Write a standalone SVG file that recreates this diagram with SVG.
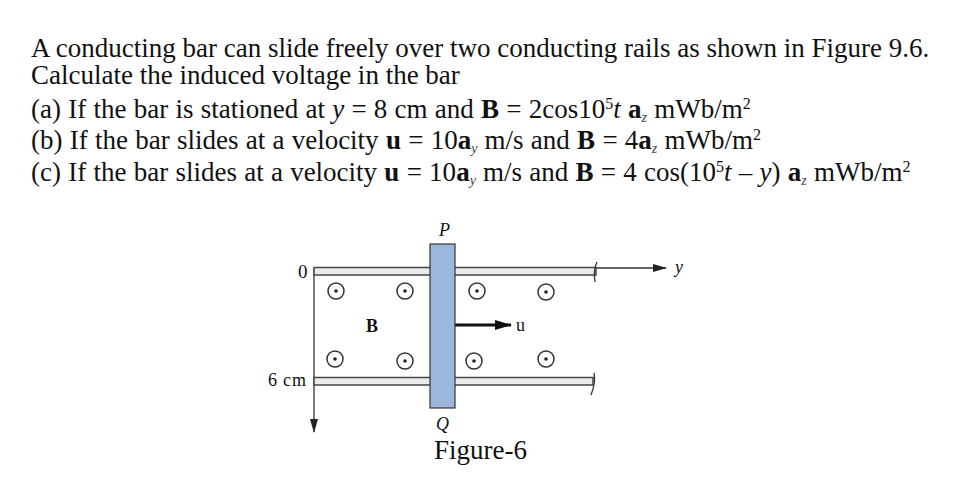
<svg xmlns="http://www.w3.org/2000/svg" width="975" height="494" viewBox="0 0 975 494">
<style>
text{font-family:"Liberation Serif","Times New Roman",serif;fill:#111}
.q{font-size:27px}
.w{word-spacing:.5px}
.b{font-weight:bold}
.i{font-style:italic}
.s{font-size:16px}
.sub{font-size:14px;fill:#444}
.lab{font-size:18px;fill:#333}
.rail{fill:#ebebeb;stroke:#444;stroke-width:1.5}
.dot circle:first-child{fill:none;stroke:#333;stroke-width:1.5}
.ax{stroke:#333;stroke-width:1.3;fill:none}
</style>
<defs>
<marker id="ah" markerUnits="userSpaceOnUse" markerWidth="14" markerHeight="8" refX="13" refY="4" orient="auto"><path d="M0 0L14 4L0 8Z" fill="#222"/></marker>
<marker id="ahb" markerUnits="userSpaceOnUse" markerWidth="17" markerHeight="10" refX="16" refY="5" orient="auto"><path d="M0 0L17 5L0 10Z" fill="#111"/></marker>
<g id="dot" class="dot"><circle r="8"/><circle r="1.8" fill="#222"/></g>
</defs>
<g id="question" class="q">
<text x="31" y="57">A conducting bar can slide freely over two conducting rails as shown in Figure 9.6.</text>
<text x="31" y="84">Calculate the induced voltage in the bar</text>
<text x="31" y="118" class="w">(a) If the bar is stationed at <tspan class="i">y</tspan> = 8 cm and <tspan class="b">B</tspan> = 2cos10<tspan class="s" dy="-9">5</tspan><tspan class="i" dy="9">t</tspan> <tspan class="b">a</tspan><tspan class="sub i" dy="4">z</tspan><tspan dy="-4"> mWb/m</tspan><tspan class="s" dy="-9">2</tspan></text>
<text x="31" y="149" class="w">(b) If the bar slides at a velocity <tspan class="b">u</tspan> = 10<tspan class="b">a</tspan><tspan class="sub i" dy="4">y</tspan><tspan dy="-4"> m/s and </tspan><tspan class="b">B</tspan> = 4<tspan class="b">a</tspan><tspan class="sub i" dy="4">z</tspan><tspan dy="-4"> mWb/m</tspan><tspan class="s" dy="-9">2</tspan></text>
<text x="31" y="181" class="w">(c) If the bar slides at a velocity <tspan class="b">u</tspan> = 10<tspan class="b">a</tspan><tspan class="sub i" dy="4">y</tspan><tspan dy="-4"> m/s and </tspan><tspan class="b">B</tspan> = 4 cos(10<tspan class="s" dy="-9">5</tspan><tspan class="i" dy="9">t</tspan> – <tspan class="i">y</tspan>) <tspan class="b">a</tspan><tspan class="sub i" dy="4">z</tspan><tspan dy="-4"> mWb/m</tspan><tspan class="s" dy="-9">2</tspan></text>
</g>
<g id="connectors">
<path class="ax" d="M314 268V432" marker-end="url(#ah)"/>
<path class="ax" d="M596 268H666" marker-end="url(#ah)"/>
<path d="M455 325H511" stroke="#111" stroke-width="2.8" fill="none" marker-end="url(#ahb)"/>
</g>
<g id="rail-top">
<rect class="rail" x="314" y="267.500" width="282" height="7.500"/>
<path class="ax" d="M597 262Q593 270 595 282"/>
</g>
<g id="rail-bottom">
<rect class="rail" x="314" y="377.500" width="279" height="7.500"/>
<path class="ax" d="M594 373Q596 382 591 395"/>
</g>
<g id="bar"><rect x="430" y="244" width="25" height="164" fill="#9db7dc" stroke="#333" stroke-width="1.2"/></g>
<g id="field">
<use href="#dot" x="336" y="291"/><use href="#dot" x="405" y="291"/><use href="#dot" x="477" y="291"/><use href="#dot" x="546" y="292"/>
<use href="#dot" x="335" y="359"/><use href="#dot" x="405" y="361"/><use href="#dot" x="474" y="361"/><use href="#dot" x="546" y="359"/>
</g>
<g id="labels" class="lab">
<text x="268" y="386" letter-spacing="0.8">6 cm</text>
<text x="298" y="278" font-size="19">0</text>
<text x="439" y="236" class="i">P</text>
<text x="436" y="430" class="i">Q</text>
<text x="675" y="273" class="i">y</text>
<text x="366" y="332" class="b">B</text>
<text x="516" y="331">u</text>
</g>
<g id="caption"><text x="434" y="459" class="q">Figure-6</text></g>
</svg>
